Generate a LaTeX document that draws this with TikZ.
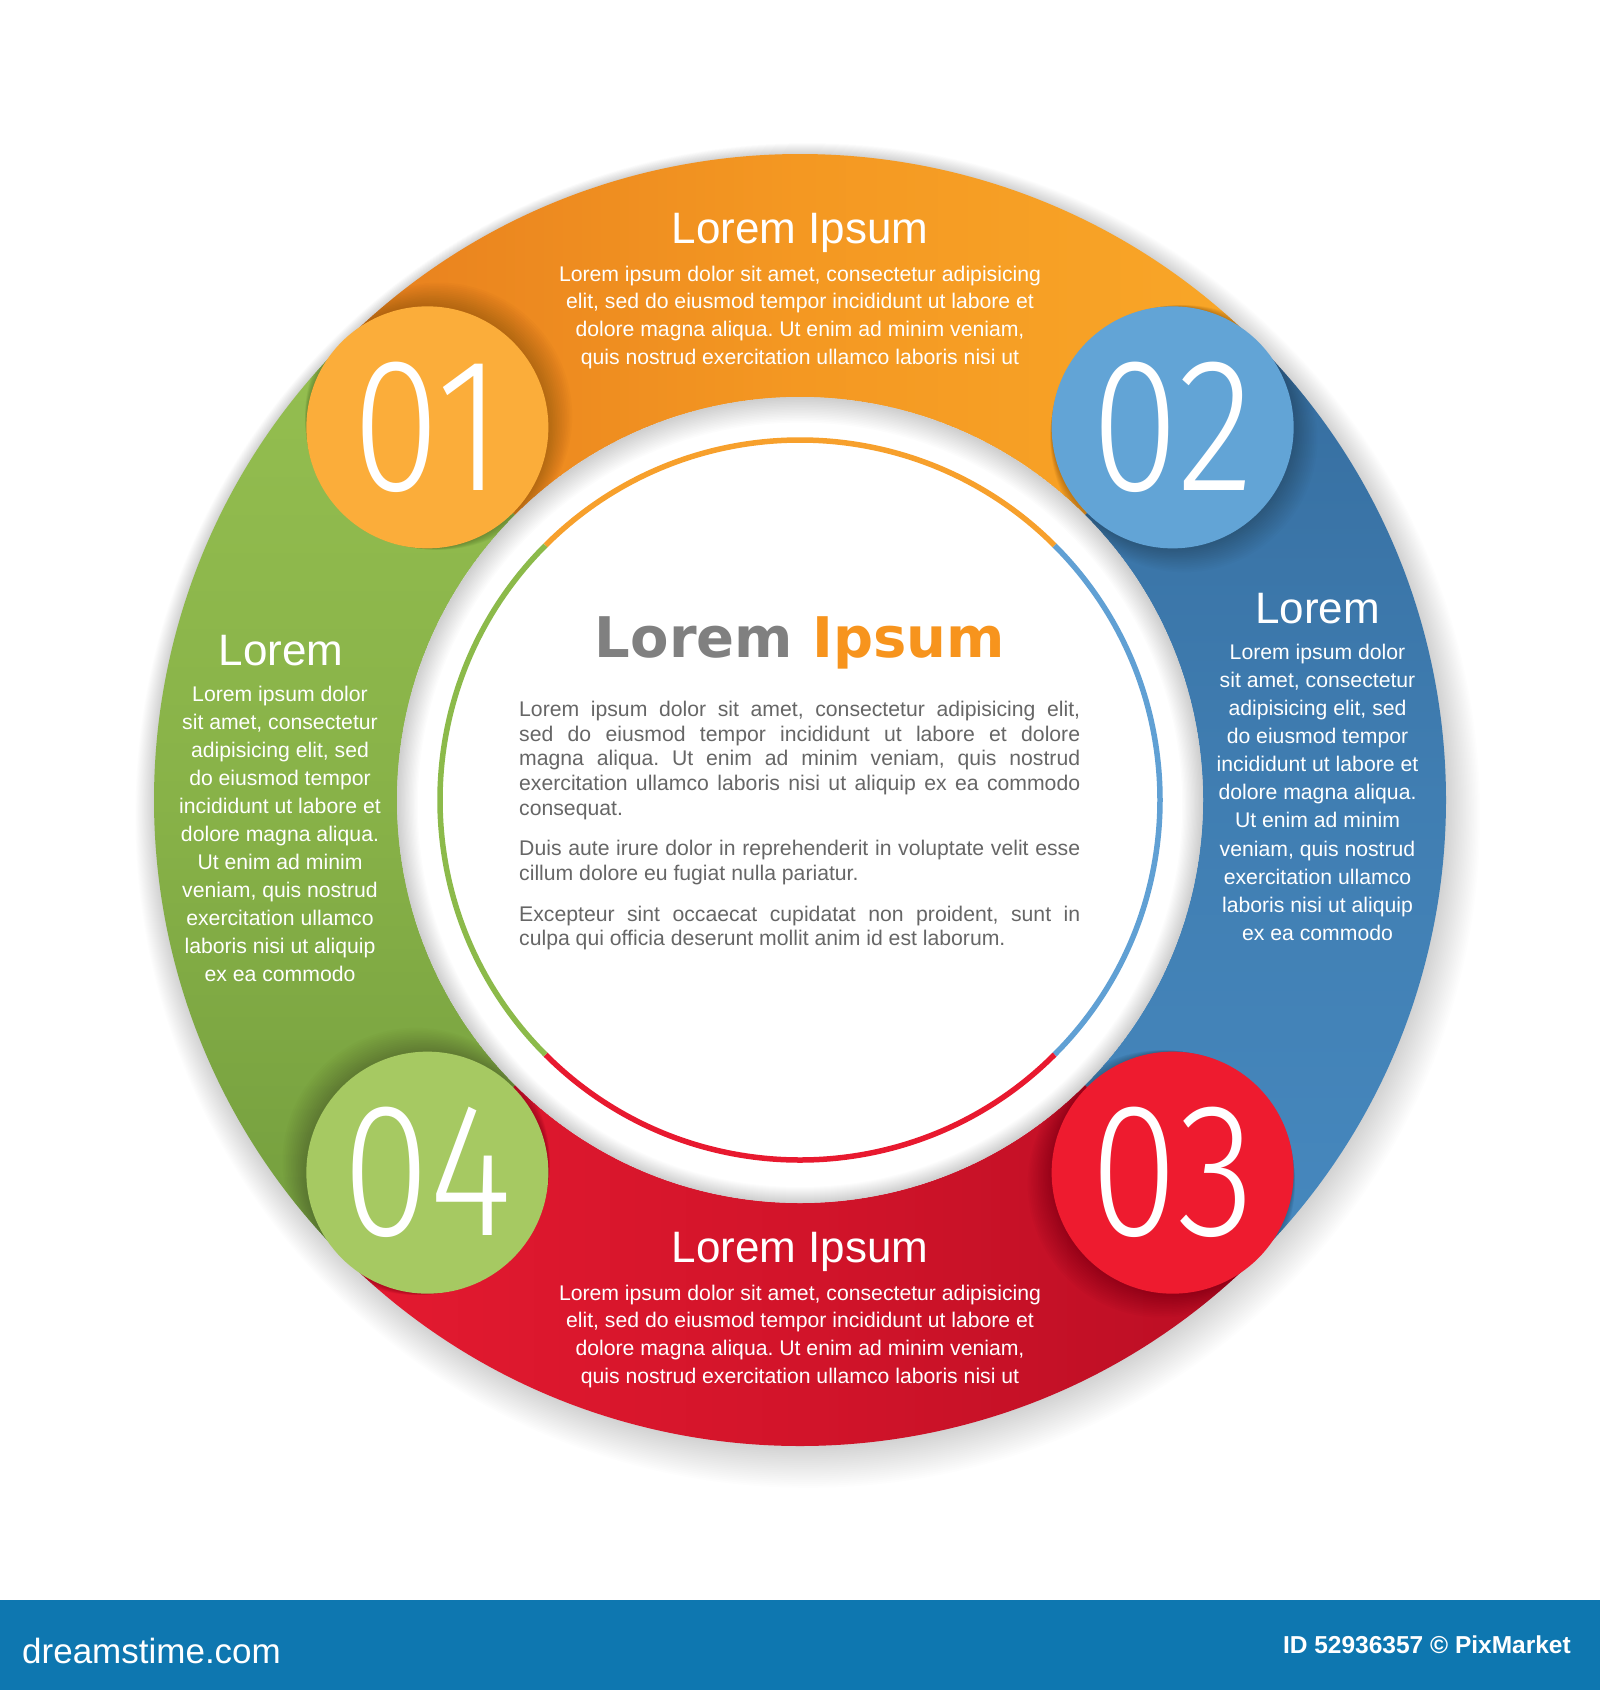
\documentclass[tikz,border=0pt]{standalone}
\usepackage{fontspec}
\usepackage{graphicx}
\setmainfont{Liberation Sans}
\newfontfamily\djfont{DejaVu Sans}
\IfFontExistsTF{Fira Sans Light}{\newfontfamily\numfont{Fira Sans Light}}{\newfontfamily\numfont{Fira Sans}}
\frenchspacing

\definecolor{orL}{RGB}{249,167,40}
\definecolor{orM}{RGB}{244,152,34}
\definecolor{orD}{RGB}{232,128,30}
\definecolor{blL}{RGB}{70,136,190}
\definecolor{blM}{RGB}{64,126,178}
\definecolor{blD}{RGB}{54,110,160}
\definecolor{rdL}{RGB}{228,26,48}
\definecolor{rdM}{RGB}{210,20,42}
\definecolor{rdD}{RGB}{186,14,36}
\definecolor{gnL}{RGB}{148,190,80}
\definecolor{gnM}{RGB}{136,178,72}
\definecolor{gnD}{RGB}{116,158,62}
\definecolor{c01}{RGB}{251,173,58}
\definecolor{c02}{RGB}{98,164,214}
\definecolor{c03}{RGB}{238,27,47}
\definecolor{c04}{RGB}{166,201,98}
\definecolor{thOr}{RGB}{247,160,44}
\definecolor{thBl}{RGB}{96,160,212}
\definecolor{thRd}{RGB}{232,25,47}
\definecolor{thGn}{RGB}{140,186,74}
\definecolor{txtgray}{RGB}{102,102,102}
\definecolor{tgray}{RGB}{128,128,128}
\definecolor{tor}{RGB}{247,148,29}
\definecolor{barblue}{RGB}{14,119,176}

\tikzset{
  numc/.style={circle, inner sep=0pt, minimum size=242pt, text=white,
    font=\numfont\fontsize{190}{190}\selectfont},
  btitle/.style={anchor=base, inner sep=0pt, text=white,
    font=\fontsize{44}{44}\selectfont},
  bline/.style={anchor=base, inner sep=0pt, text=white,
    font=\fontsize{21.2}{24}\selectfont},
  cline/.style={anchor=base west, inner sep=0pt, text=txtgray,
    font=\fontsize{21.2}{24}\selectfont},
  thin/.style={line width=5.5pt}
}

\def\hlines{{Lorem ipsum dolor sit amet, consectetur adipisicing},{elit, sed do eiusmod tempor incididunt ut labore et},{dolore magna aliqua. Ut enim ad minim veniam,},{quis nostrud exercitation ullamco laboris nisi ut}}
\def\vlines{{Lorem ipsum dolor},{sit amet, consectetur},{adipisicing elit, sed},{do eiusmod tempor},{incididunt ut labore et},{dolore magna aliqua.},{Ut enim ad minim},{veniam, quis nostrud},{exercitation ullamco},{laboris nisi ut aliquip},{ex ea commodo}}

\begin{document}
\begin{tikzpicture}[x=1pt,y=-1pt]
\useasboundingbox (0,0) rectangle (1600,1690);
\fill[white] (0,0) rectangle (1600,1690);

% outer soft shadow of the ring
\foreach \k in {1,...,22}{
  \fill[black,opacity=0.007] ({800+0.35*\k},{800+0.7*\k}) circle ({646+1.2*\k});
}

\begin{scope}[shift={(800,800)}]
  % bands
  \shade[left color=orD, right color=orL, middle color=orM]
    (225:646) arc[start angle=225,end angle=315,radius=646]
    -- (315:403) arc[start angle=315,end angle=225,radius=403] -- cycle;
  \shade[top color=blD, bottom color=blL, middle color=blM]
    (315:646) arc[start angle=315,end angle=405,radius=646]
    -- (405:403) arc[start angle=405,end angle=315,radius=403] -- cycle;
  \shade[right color=rdD, left color=rdL, middle color=rdM]
    (45:646) arc[start angle=45,end angle=135,radius=646]
    -- (135:403) arc[start angle=135,end angle=45,radius=403] -- cycle;
  \shade[bottom color=gnD, top color=gnL, middle color=gnM]
    (135:646) arc[start angle=135,end angle=225,radius=646]
    -- (225:403) arc[start angle=225,end angle=135,radius=403] -- cycle;

  % shadows cast by the number circles
  \begin{scope}
    \clip (0,0) circle (646);
    \foreach \cx/\cy/\dx/\dy in {-372.6/-372.6/1/-1, 372.6/-372.6/1/1, 372.6/372.6/-1/1, -372.6/372.6/-1/-1}{
      \foreach \k in {1,...,14}{
        \fill[black,opacity=0.014] ({\cx+\dx*0.8*\k},{\cy+\dy*0.8*\k}) circle ({121+0.9*\k});
      }
    }
  \end{scope}

  % inner white disc with soft shadow
  \fill[white] (0,0) circle (403);
  \foreach \k in {1,...,16}{
    \fill[black,opacity=0.011,even odd rule] (0,0) circle (403) (0,{0.3*\k}) circle ({403-1.3*\k});
  }

  % thin coloured circle
  \draw[thin, thOr] (225:360) arc[start angle=225,end angle=315,radius=360];
  \draw[thin, thBl] (315:360) arc[start angle=315,end angle=405,radius=360];
  \draw[thin, thRd] (45:360) arc[start angle=45,end angle=135,radius=360];
  \draw[thin, thGn] (135:360) arc[start angle=135,end angle=225,radius=360];

  % number circles
  \node[numc, fill=c01] (n1) at (225:527) {\scalebox{0.84}[1]{01}};
  \node[numc, fill=c02] (n2) at (315:527) {\scalebox{0.84}[1]{02}};
  \node[numc, fill=c03] (n3) at (45:527) {\scalebox{0.84}[1]{03}};
  \node[numc, fill=c04] (n4) at (135:527) {\scalebox{0.84}[1]{04}};
\end{scope}

% band texts
\node[btitle] (ttop) at (800,243) {Lorem Ipsum};
\foreach \t [count=\i] in \hlines {
  \node[bline] (tl\i) at (800,{281+27.9*(\i-1)}) {\t};
}
\node[btitle] (tbot) at (800,1262) {Lorem Ipsum};
\foreach \t [count=\i] in \hlines {
  \node[bline] (bl\i) at (800,{1300+27.9*(\i-1)}) {\t};
}
\node[btitle] (tleft) at (281,665) {Lorem};
\foreach \t [count=\i] in \vlines {
  \node[bline] (gl\i) at (280,{701+28*(\i-1)}) {\t};
}
\node[btitle] (tright) at (1317.5,623) {Lorem};
\foreach \t [count=\i] in \vlines {
  \node[bline] (rl\i) at (1317.5,{659.3+28.1*(\i-1)}) {\t};
}

% centre text
\node[anchor=base, inner sep=0pt, font=\djfont\bfseries\fontsize{56}{56}\selectfont]
  (ctitle) at (800,657) {\textcolor{tgray}{Lorem} \textcolor{tor}{Ipsum}};
\node[cline] (p1a) at (519,716.5) {\makebox[561pt][s]{Lorem ipsum dolor sit amet, consectetur adipisicing elit,}};
\node[cline] (p1b) at (519,741.2) {\makebox[561pt][s]{sed do eiusmod tempor incididunt ut labore et dolore}};
\node[cline] (p1c) at (519,765.9) {\makebox[561pt][s]{magna aliqua. Ut enim ad minim veniam, quis nostrud}};
\node[cline] (p1d) at (519,790.6) {\makebox[561pt][s]{exercitation ullamco laboris nisi ut aliquip ex ea commodo}};
\node[cline] (p1e) at (519,815.3) {consequat.};
\node[cline] (p2a) at (519,855.5) {\makebox[561pt][s]{Duis aute irure dolor in reprehenderit in voluptate velit esse}};
\node[cline] (p2b) at (519,880.2) {cillum dolore eu fugiat nulla pariatur.};
\node[cline] (p3a) at (519,921) {\makebox[561pt][s]{Excepteur sint occaecat cupidatat non proident, sunt in}};
\node[cline] (p3b) at (519,945.7) {culpa qui officia deserunt mollit anim id est laborum.};

% bottom bar
\fill[barblue] (0,1600) rectangle (1600,1690);
\node[anchor=base west, inner sep=0pt, text=white, font=\fontsize{35}{35}\selectfont]
  (logo) at (22,1663) {dreamstime.com};
\node[anchor=base east, inner sep=0pt, text=white, font=\bfseries\fontsize{24.5}{24.5}\selectfont]
  (imgid) at (1571,1653) {ID 52936357 © PixMarket};
\end{tikzpicture}
\end{document}
